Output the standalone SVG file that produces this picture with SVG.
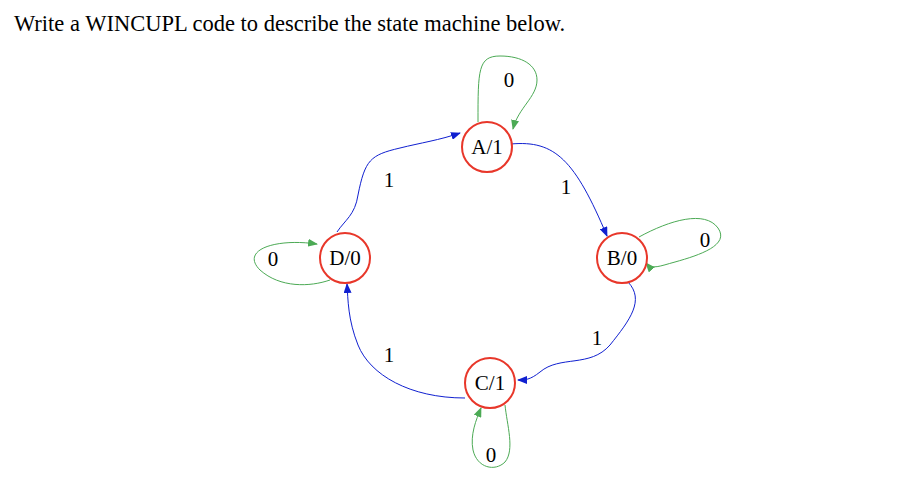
<svg xmlns="http://www.w3.org/2000/svg" width="918" height="500" viewBox="0 0 918 500">
<style>
text{font-family:"Liberation Serif","Times New Roman",serif;fill:#000}
.n circle{fill:#fff;stroke:#e8372a;stroke-width:2}
.n text{font-size:21px;text-anchor:middle}
.l{font-size:21px;text-anchor:middle}
.b{fill:none;stroke:#1020d0;stroke-width:1}
.g{fill:none;stroke:#4caa55;stroke-width:1}
</style>
<defs>
<marker id="mb" markerWidth="10" markerHeight="8" refX="9" refY="4" orient="auto" markerUnits="userSpaceOnUse"><path d="M0,0L10,4L0,8Z" fill="#1020d0"/></marker>
<marker id="mg" markerWidth="10" markerHeight="8" refX="9" refY="4" orient="auto" markerUnits="userSpaceOnUse"><path d="M0,0L10,4L0,8Z" fill="#4caa55"/></marker>
</defs>
<rect width="918" height="500" fill="#fff"/>
<text x="14" y="31" style="font-size:22.5px">Write a WINCUPL code to describe the state machine below.</text>
<g id="connectors">
<path class="g" d="M478,122 C478,70 478,56 500,56 C522,56 537,65 537,80 C537,97 518,108 513,129" marker-end="url(#mg)"/>
<path class="b" d="M511,144 C555,140 575,160 607,236" marker-end="url(#mb)"/>
<path class="g" d="M639,237 C670,220 705,210 718,228 C730,245 700,255 675,262 C660,266 652,270 646,263" marker-end="url(#mg)"/>
<path class="b" d="M628,282 C645,300 630,320 610,345 C590,368 560,355 540,372 C530,380 525,380 518,380" marker-end="url(#mb)"/>
<path class="g" d="M505,405 C507,425 515,450 505,462 C495,472 477,468 473,450 C470,435 476,420 481,408" marker-end="url(#mg)"/>
<path class="b" d="M465,398 C410,398 370,375 358,345 C348,320 348,300 347,284" marker-end="url(#mb)"/>
<path class="g" d="M330,280 C310,287 280,288 260,270 C240,250 275,238 317,244" marker-end="url(#mg)"/>
<path class="b" d="M337,232 C345,220 355,215 358,195 C365,160 370,155 400,148 C420,143 440,140 460,133" marker-end="url(#mb)"/>
<text class="l" x="509" y="87">0</text>
<text class="l" x="566" y="194">1</text>
<text class="l" x="705" y="247">0</text>
<text class="l" x="597" y="345">1</text>
<text class="l" x="491" y="462">0</text>
<text class="l" x="389" y="362">1</text>
<text class="l" x="273" y="266">0</text>
<text class="l" x="389" y="187">1</text>
</g>
<g id="A" class="n"><circle cx="487" cy="147" r="25"/><text x="487" y="154">A/1</text></g>
<g id="B" class="n"><circle cx="622" cy="258" r="25"/><text x="622" y="265">B/0</text></g>
<g id="C" class="n"><circle cx="490" cy="383" r="25"/><text x="490" y="390">C/1</text></g>
<g id="D" class="n"><circle cx="345" cy="258" r="25"/><text x="345" y="265">D/0</text></g>
</svg>
